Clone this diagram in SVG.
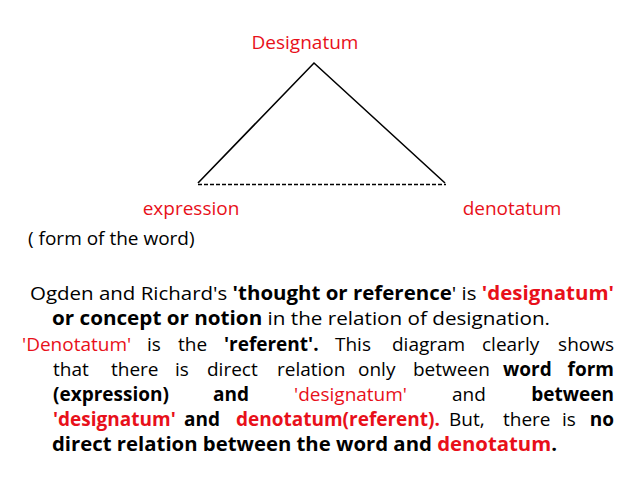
<svg xmlns="http://www.w3.org/2000/svg" width="638" height="478" viewBox="0 0 638 478">
<style>
text{font-family:"Open Sans","Liberation Sans",sans-serif;font-size:19px;fill:#000}
.r{fill:#e8101a}
.b{font-weight:bold}
</style>
<rect width="638" height="478" fill="#fff"/>
<g id="connectors" stroke="#000" fill="none">
<polyline points="198,183 314,63 445,183" stroke-width="1.6"/>
<line x1="198" y1="184.5" x2="446" y2="184.5" stroke-width="1.3" stroke-dasharray="4,2"/>
</g>
<g id="designatum"><text x="305" y="49" text-anchor="middle" class="r">Designatum</text></g>
<g id="expression"><text x="191" y="215" text-anchor="middle" class="r">expression</text><text x="28" y="245">( form of the word)</text></g>
<g id="denotatum"><text x="512" y="215" text-anchor="middle" class="r">denotatum</text></g>
<g id="paragraph">
<text x="30" y="300" textLength="584" lengthAdjust="spacingAndGlyphs">Ogden and Richard's <tspan class="b">'thought or reference</tspan>' is <tspan class="r b">'designatum'</tspan></text>
<text x="52" y="325" textLength="498" lengthAdjust="spacingAndGlyphs"><tspan class="b">or concept or notion</tspan> in the relation of designation.</text>
<text y="351"><tspan x="22" class="r">'Denotatum'</tspan><tspan x="147">is</tspan><tspan x="178">the</tspan><tspan x="224" class="b">'referent'.</tspan><tspan x="335">This</tspan><tspan x="392">diagram</tspan><tspan x="482">clearly</tspan><tspan x="614" text-anchor="end">shows</tspan></text>
<text y="376"><tspan x="53">that</tspan><tspan x="111">there</tspan><tspan x="175">is</tspan><tspan x="207">direct</tspan><tspan x="277">relation</tspan><tspan x="358">only</tspan><tspan x="413">between</tspan><tspan x="503" class="b">word</tspan><tspan x="614" text-anchor="end" class="b">form</tspan></text>
<text y="401"><tspan x="53" class="b">(expression)</tspan><tspan x="213" class="b">and</tspan><tspan x="294" class="r">'designatum'</tspan><tspan x="452">and</tspan><tspan x="614" text-anchor="end" class="b">between</tspan></text>
<text y="426"><tspan x="53" class="r b">'designatum'</tspan><tspan x="184" class="b">and</tspan><tspan x="236" class="r b">denotatum(referent).</tspan><tspan x="449">But,</tspan><tspan x="503">there</tspan><tspan x="562">is</tspan><tspan x="614" text-anchor="end" class="b">no</tspan></text>
<text x="52" y="451" class="b" textLength="505" lengthAdjust="spacingAndGlyphs">direct relation between the word and <tspan class="r">denotatum</tspan>.</text>
</g>
</svg>
